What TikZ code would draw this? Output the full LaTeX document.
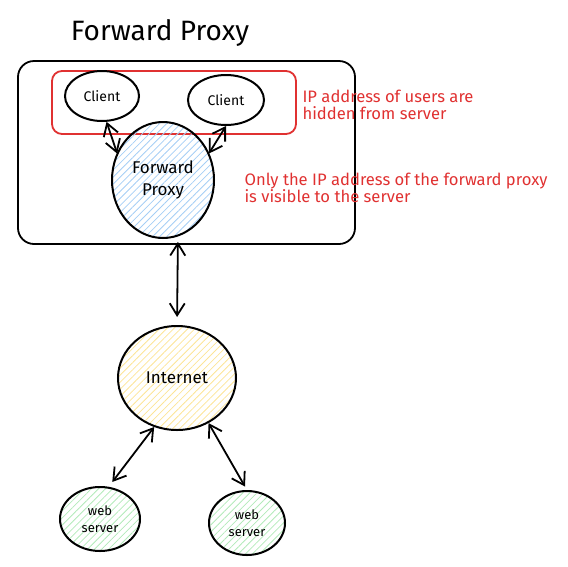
\documentclass[tikz,border=0pt]{standalone}
\usepackage{fontspec}
\setmainfont{Fira Sans}
\usetikzlibrary{shapes.geometric,patterns.meta,arrows.meta}

\definecolor{notered}{RGB}{224,49,49}
\definecolor{hatchblue}{RGB}{165,206,245}
\definecolor{hatchyellow}{RGB}{252,228,150}
\definecolor{hatchgreen}{RGB}{178,234,185}

\begin{document}
\begin{tikzpicture}[x=1pt, y=-1pt,
  box/.style={draw=black, line width=2pt, ellipse, inner sep=0pt, font=\fontsize{14}{16}\selectfont},
  hatch/.style={pattern={Lines[angle=45, distance=5pt, line width=0.8pt]}, pattern color=#1},
  link/.style={line width=1.8pt, {Straight Barb[length=12pt,width=15pt]}-{Straight Barb[length=12pt,width=15pt]}},
  note/.style={text=notered, anchor=west, align=left, font=\fontsize{16.6}{17}\selectfont}]
\useasboundingbox (0,0) rectangle (568,566);

% title and frames
\node (title) at (160,33) {\fontsize{28}{30}\selectfont Forward Proxy};
\draw[line width=1.8pt, rounded corners=16pt] (18,61) rectangle (355,244);
\draw[notered, line width=1.8pt, rounded corners=10pt] (52,71) rectangle (296,134);

% nodes
\node[box, minimum width=74pt, minimum height=50pt] (client1) at (102,96) {Client};
\node[box, minimum width=76pt, minimum height=50pt] (client2) at (226,100) {Client};
\node[box, hatch=hatchblue, minimum width=102pt, minimum height=116pt, align=center,
  font=\fontsize{17}{22}\selectfont] (proxy) at (163,180) {Forward\\Proxy};
\node[box, hatch=hatchyellow, minimum width=118pt, minimum height=104pt,
  font=\fontsize{17}{20}\selectfont] (internet) at (177,378) {Internet};
\node[box, hatch=hatchgreen, minimum width=80pt, minimum height=64pt, align=center,
  font=\fontsize{13}{17}\selectfont] (web1) at (100,519) {web\\server};
\node[box, hatch=hatchgreen, minimum width=76pt, minimum height=64pt, align=center,
  font=\fontsize{13}{17}\selectfont] (web2) at (247,523) {web\\server};

% notes
\node[note] (hidden) at (299,104.5) {IP address of users are\\hidden from server};
\node[note] (visible) at (241,188) {Only the IP address of the forward proxy\\is visible to the server};

% connectors
\draw[link] (client1.-80) -- (proxy.150);
\draw[link] (client2.south) -- (proxy.30);
\draw[link, shorten <=6pt, shorten >=8pt] (proxy.-75) -- (internet.north);
\draw[link, shorten >=6pt] (internet.-115) -- (web1.75);
\draw[link, shorten >=4pt] (internet.-55) -- (web2.north);

\end{tikzpicture}
\end{document}
